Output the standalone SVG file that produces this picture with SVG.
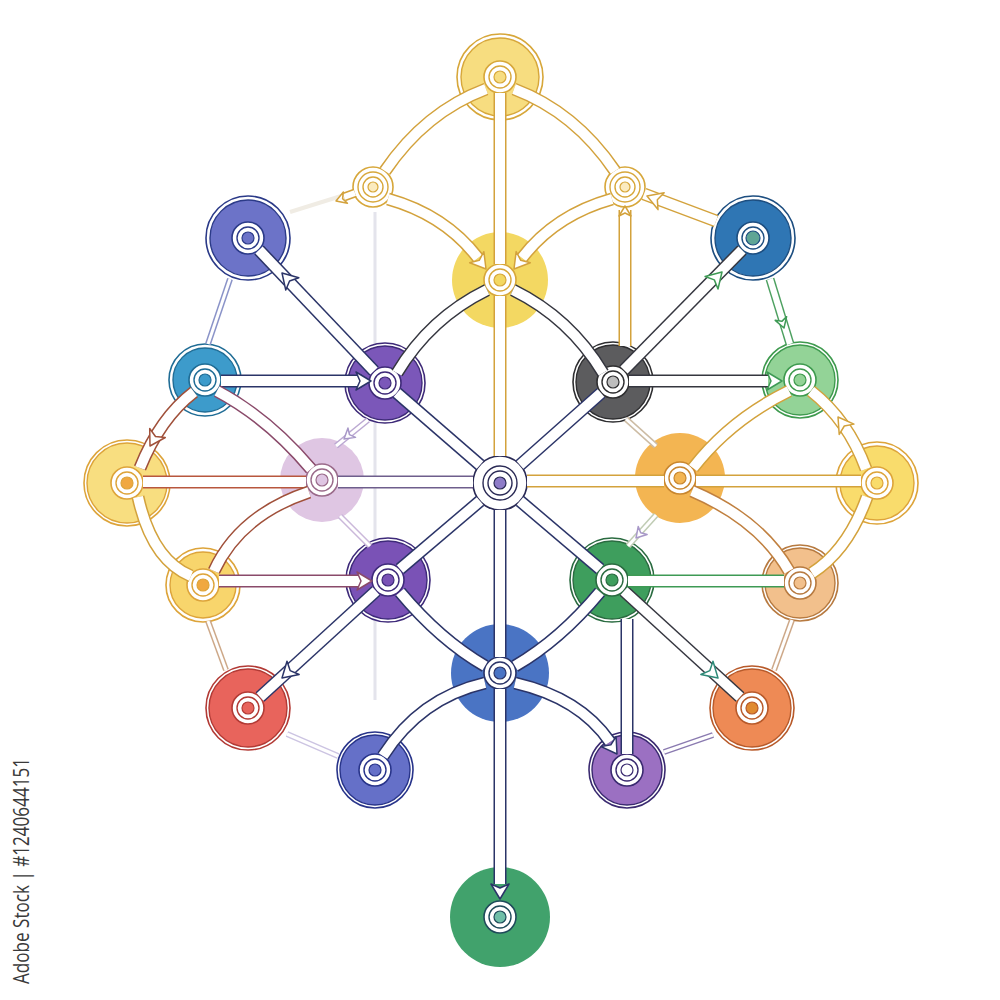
<svg xmlns="http://www.w3.org/2000/svg" xmlns:xlink="http://www.w3.org/1999/xlink" width="1000" height="1000" viewBox="0 0 1000 1000">
<style>
.node .bo{fill:#fff;stroke:var(--s);stroke-width:1.6}
.node .bi{fill:var(--f);stroke:var(--s);stroke-width:1.4}
.node .bf{fill:var(--f)}
.node .c0{fill:#fff;stroke:var(--s);stroke-width:1.6}
.node .c1{fill:none;stroke:var(--s);stroke-width:1.4}
.node .c2{fill:var(--f);stroke:var(--s);stroke-width:1.2}
.tube .o{fill:none;stroke-width:13}
.tube .i{fill:none;stroke:#fff;stroke-width:10}
.thin .o{fill:none;stroke-width:6}
.thin .i{fill:none;stroke:#fff;stroke-width:3}
.gold{stroke:#D3A23C}
.navy{stroke:#2B3468}
.dark{stroke:#35363F}
.red{stroke:#B8573E}
.plum{stroke:#6E5E8C}
.rose{stroke:#8A4A6A}
.green{stroke:#3E9A55}
.brown{stroke:#A0503A}
.amber{stroke:#C08040}
.ah{fill:#fff;stroke-width:1.5;stroke-linejoin:round}
.ah.gold{stroke:#D3A23C}
.ah.navy{stroke:#2B3468}
.ah.green{stroke:#3E9A55}
.ah.teal{stroke:#2E8A78}
.ah.brown{stroke:#A0503A}
.ah.rose{stroke:#8A4A6A}
.ah.lav{stroke:#A898C8}
.wm{font-family:"Open Sans","Liberation Sans",sans-serif;font-size:22px;fill:#3a3a3a}
</style>
<defs>
<path id="ah" d="M0,0 L-15,-9 L-11,0 L-15,9 Z"/>
<path id="ahs" d="M0,0 L-10,-6 L-7,0 L-10,6 Z"/>
</defs>
<rect width="1000" height="1000" fill="#fff"/>

<g id="faint">
<path d="M375,212 V700" stroke="#E4E4EC" stroke-width="3" fill="none"/>
<path d="M290,212 L354,192" stroke="#F0ECE4" stroke-width="4" fill="none"/>
</g>

<!-- nodes -->
<g id="n-top" class="node" style="--f:#F7DD80;--s:#D7A73A" transform="translate(500,77)"><circle class="bo" r="43"/><circle class="bi" r="39"/><circle class="c0" r="16"/><circle class="c1" r="11"/><circle class="c2" r="6"/></g>
<g id="n-tls" class="node" style="--f:#FBEBC0;--s:#D7A73A" transform="translate(373,187)"><circle class="bo" r="20"/><circle class="c1" r="15"/><circle class="c1" r="10"/><circle class="c2" r="5"/></g>
<g id="n-trs" class="node" style="--f:#FBEBC0;--s:#D7A73A" transform="translate(625,187)"><circle class="bo" r="20"/><circle class="c1" r="15"/><circle class="c1" r="10"/><circle class="c2" r="5"/></g>
<g id="n-uc" class="node" style="--f:#F3D862;--s:#D7A73A" transform="translate(500,280)"><circle class="bf" r="48"/><circle class="c0" r="16"/><circle class="c1" r="11"/><circle class="c2" r="6"/></g>
<g id="n-tl" class="node" style="--f:#6C73C8;--s:#2B3A88" transform="translate(248,238)"><circle class="bo" r="42"/><circle class="bi" r="38"/><circle class="c0" r="16"/><circle class="c1" r="11"/><circle class="c2" r="6"/></g>
<g id="n-tr" class="node" style="--f:#2F76B4;--s:#1D4E80" transform="translate(753,238)"><circle class="bo" r="42"/><circle class="bi" r="38"/><circle class="c0" r="16"/><circle class="c1" r="11"/><circle class="c2" r="7" style="fill:#5FA595"/></g>
<g id="n-lt" class="node" style="--f:#3D9BCB;--s:#1F6C95" transform="translate(205,380)"><circle class="bo" r="36"/><circle class="bi" r="32"/><circle class="c0" r="16"/><circle class="c1" r="11"/><circle class="c2" r="6"/></g>
<g id="n-p1" class="node" style="--f:#7B57B9;--s:#3E2A78" transform="translate(385,383)"><circle class="bo" r="40"/><circle class="bi" r="37"/><circle class="c0" r="16"/><circle class="c1" r="11"/><circle class="c2" r="6"/></g>
<g id="n-gray" class="node" style="--f:#5C5C5E;--s:#2E2E30" transform="translate(613,382)"><circle class="bo" r="40"/><circle class="bi" r="37"/><circle class="c0" r="16"/><circle class="c1" r="11"/><circle class="c2" r="6" style="fill:#BDBDBD"/></g>
<g id="n-lg" class="node" style="--f:#93D397;--s:#3E9A4E" transform="translate(800,380)"><circle class="bo" r="38"/><circle class="bi" r="35"/><circle class="c0" r="16"/><circle class="c1" r="11"/><circle class="c2" r="6"/></g>
<g id="n-ly" class="node" style="--f:#F8DE80;--s:#DDA43A" transform="translate(127,483)"><circle class="bo" r="43"/><circle class="bi" r="40"/><circle class="c0" r="16"/><circle class="c1" r="11"/><circle class="c2" r="6" style="fill:#F0A840"/></g>
<g id="n-pink" class="node" style="--f:#DFC6E3;--s:#9A6A8A" transform="translate(322,480)"><circle class="bf" r="42"/><circle class="c0" r="16"/><circle class="c1" r="11"/><circle class="c2" r="6"/></g>
<g id="n-c" class="node" style="--f:#8E7CC8;--s:#2A2A55" transform="translate(500,483)"><circle class="c0" r="27"/><circle class="c1" r="17"/><circle class="c1" r="12"/><circle class="c2" r="6"/></g>
<g id="n-oy" class="node" style="--f:#F3B552;--s:#C8862E" transform="translate(680,478)"><circle class="bf" r="45"/><circle class="c0" r="16"/><circle class="c1" r="11"/><circle class="c2" r="6"/></g>
<g id="n-ry" class="node" style="--f:#F9DC6C;--s:#DDA43A" transform="translate(877,483)"><circle class="bo" r="41"/><circle class="bi" r="37"/><circle class="c0" r="16"/><circle class="c1" r="11"/><circle class="c2" r="6"/></g>
<g id="n-lsy" class="node" style="--f:#F8D56C;--s:#DDA43A" transform="translate(203,585)"><circle class="bo" r="37"/><circle class="bi" r="33"/><circle class="c0" r="16"/><circle class="c1" r="11"/><circle class="c2" r="6" style="fill:#F0A840"/></g>
<g id="n-p2" class="node" style="--f:#7A52B6;--s:#3E2A7A" transform="translate(388,580)"><circle class="bo" r="42"/><circle class="bi" r="39"/><circle class="c0" r="16"/><circle class="c1" r="11"/><circle class="c2" r="6"/></g>
<g id="n-g" class="node" style="--f:#3E9E5D;--s:#2A6B40" transform="translate(612,580)"><circle class="bo" r="42"/><circle class="bi" r="39"/><circle class="c0" r="16"/><circle class="c1" r="11"/><circle class="c2" r="6"/></g>
<g id="n-peach" class="node" style="--f:#F2C08C;--s:#B77A40" transform="translate(800,583)"><circle class="bo" r="38"/><circle class="bi" r="35"/><circle class="c0" r="16"/><circle class="c1" r="11"/><circle class="c2" r="6"/></g>
<g id="n-b" class="node" style="--f:#4A74C4;--s:#2B3468" transform="translate(500,673)"><circle class="bf" r="49"/><circle class="c0" r="16"/><circle class="c1" r="11"/><circle class="c2" r="6"/></g>
<g id="n-red" class="node" style="--f:#E8645C;--s:#B23A35" transform="translate(248,708)"><circle class="bo" r="42"/><circle class="bi" r="39"/><circle class="c0" r="16"/><circle class="c1" r="11"/><circle class="c2" r="6"/></g>
<g id="n-or" class="node" style="--f:#EE8A55;--s:#B85A2A" transform="translate(752,708)"><circle class="bo" r="42"/><circle class="bi" r="39"/><circle class="c0" r="16"/><circle class="c1" r="11"/><circle class="c2" r="6" style="fill:#E08A30"/></g>
<g id="n-bv" class="node" style="--f:#6570C8;--s:#28348A" transform="translate(375,770)"><circle class="bo" r="38"/><circle class="bi" r="35"/><circle class="c0" r="16"/><circle class="c1" r="11"/><circle class="c2" r="6"/></g>
<g id="n-pb" class="node" style="--f:#9B70C2;--s:#3A2A70" transform="translate(627,770)"><circle class="bo" r="38"/><circle class="bi" r="35"/><circle class="c0" r="16"/><circle class="c1" r="11"/><circle class="c2" r="6" style="fill:#fff"/></g>
<g id="n-gb" class="node" style="--f:#41A26C;--s:#1F4A5A" transform="translate(500,917)"><circle class="bf" r="50"/><circle class="c0" r="16"/><circle class="c1" r="11"/><circle class="c2" r="6" style="fill:#6FBFA8"/></g>

<!-- connectors -->
<g id="connectors">
<g class="thin" stroke-linecap="butt">
<path class="o" style="stroke:#8A93C8" d="M230,279 L208,344"/><path class="i" d="M230,279 L208,344"/>
<path class="o" style="stroke:#4DA060;stroke-width:9" d="M770,279 L790,344"/><path class="i" style="stroke-width:6" d="M770,279 L790,344"/>
<path class="o" style="stroke:#BBA8D2" d="M368,420 L336,446"/><path class="i" d="M368,420 L336,446"/>
<path class="o" style="stroke:#CDBCA4" d="M626,419 L656,446"/><path class="i" d="M626,419 L656,446"/>
<path class="o" style="stroke:#CBB8DA" d="M340,516 L370,546"/><path class="i" d="M340,516 L370,546"/>
<path class="o" style="stroke:#C0CCB4" d="M656,515 L628,546"/><path class="i" d="M656,515 L628,546"/>
<path class="o" style="stroke:#CDA888" d="M208,621 L226,670"/><path class="i" d="M208,621 L226,670"/>
<path class="o" style="stroke:#CDA888" d="M792,620 L774,670"/><path class="i" d="M792,620 L774,670"/>
<path class="o" style="stroke:#CCC4E2" d="M287,734 L338,756"/><path class="i" d="M287,734 L338,756"/>
<path class="o" style="stroke:#8A7AB0" d="M713,735 L664,752"/><path class="i" d="M713,735 L664,752"/>
</g>
<g class="tube">
<g id="c-top-uc"><path class="o gold" d="M500,93 V264"/><path class="i" d="M500,93 V264"/></g>
<g id="c-uc-c"><path class="o gold" d="M500,296 V456"/><path class="i" d="M500,296 V456"/></g>
<g id="c-c-b"><path class="o navy" d="M500,510 V657"/><path class="i" d="M500,510 V657"/></g>
<g id="c-b-gb"><path class="o navy" d="M500,689 V884"/><path class="i" d="M500,689 V884"/></g>
<g id="c-top-tls"><path class="o gold" d="M486,89 Q425,112 385,171"/><path class="i" d="M486,89 Q425,112 385,171"/></g>
<g id="c-top-trs"><path class="o gold" d="M514,89 Q575,112 615,171"/><path class="i" d="M514,89 Q575,112 615,171"/></g>
<g id="c-tls-uc"><path class="o gold" d="M388,199 Q445,215 478,258"/><path class="i" d="M388,199 Q445,215 478,258"/></g>
<g id="c-trs-uc"><path class="o gold" d="M612,199 Q555,215 522,258"/><path class="i" d="M612,199 Q555,215 522,258"/></g>
<g id="c-tls-stub"><path class="o gold" d="M355,193 L344,197" style="stroke-width:9"/><path class="i" d="M355,193 L344,197" style="stroke-width:6"/></g>
<g id="c-trs-tr"><path class="o gold" d="M644,194 L716,221"/><path class="i" d="M644,194 L716,221"/></g>
<g id="c-trs-gray"><path class="o gold" d="M625,210 V346"/><path class="i" d="M625,210 V346"/></g>
<g id="c-uc-p1"><path class="o dark" d="M487,290 Q430,318 397,373"/><path class="i" d="M487,290 Q430,318 397,373"/></g>
<g id="c-uc-gray"><path class="o dark" d="M513,290 Q570,318 603,373"/><path class="i" d="M513,290 Q570,318 603,373"/></g>
<g id="c-p1-c"><path class="o navy" d="M397,393 L480,465"/><path class="i" d="M397,393 L480,465"/></g>
<g id="c-gray-c"><path class="o navy" d="M601,393 L520,465"/><path class="i" d="M601,393 L520,465"/></g>
<g id="c-c-p2"><path class="o navy" d="M480,501 L400,569"/><path class="i" d="M480,501 L400,569"/></g>
<g id="c-c-g"><path class="o navy" d="M520,501 L600,569"/><path class="i" d="M520,501 L600,569"/></g>
<g id="c-p1-tl"><path class="o navy" d="M374,371 L259,250"/><path class="i" d="M374,371 L259,250"/></g>
<g id="c-gray-tr"><path class="o dark" d="M624,370 L742,250"/><path class="i" d="M624,370 L742,250"/></g>
<g id="c-p2-red"><path class="o navy" d="M376,591 L260,697"/><path class="i" d="M376,591 L260,697"/></g>
<g id="c-g-or"><path class="o dark" d="M624,591 L740,697"/><path class="i" d="M624,591 L740,697"/></g>
<g id="c-lt-p1"><path class="o navy" d="M221,381 H362"/><path class="i" d="M221,381 H362"/></g>
<g id="c-gray-lg"><path class="o dark" d="M629,381 H768"/><path class="i" d="M629,381 H768"/></g>
<g id="c-ly-pink"><path class="o red" d="M143,482 H306"/><path class="i" d="M143,482 H306"/></g>
<g id="c-pink-c"><path class="o plum" d="M338,482 H473"/><path class="i" d="M338,482 H473"/></g>
<g id="c-c-oy"><path class="o gold" d="M527,481 H664"/><path class="i" d="M527,481 H664"/></g>
<g id="c-oy-ry"><path class="o gold" d="M696,481 H861"/><path class="i" d="M696,481 H861"/></g>
<g id="c-lsy-p2"><path class="o rose" d="M219,581 H362"/><path class="i" d="M219,581 H362"/></g>
<g id="c-g-peach"><path class="o green" d="M628,581 H784"/><path class="i" d="M628,581 H784"/></g>
<g id="c-lt-ly"><path class="o brown" d="M194,392 Q160,418 140,468"/><path class="i" d="M194,392 Q160,418 140,468"/></g>
<g id="c-lt-pink"><path class="o rose" d="M217,391 Q268,418 311,469"/><path class="i" d="M217,391 Q268,418 311,469"/></g>
<g id="c-lg-oy"><path class="o gold" d="M789,391 Q730,420 693,468"/><path class="i" d="M789,391 Q730,420 693,468"/></g>
<g id="c-lg-ry"><path class="o gold" d="M811,391 Q848,420 866,469"/><path class="i" d="M811,391 Q848,420 866,469"/></g>
<g id="c-ly-lsy"><path class="o gold" d="M138,497 Q152,560 191,576"/><path class="i" d="M138,497 Q152,560 191,576"/></g>
<g id="c-pink-lsy"><path class="o brown" d="M309,492 Q240,515 214,571"/><path class="i" d="M309,492 Q240,515 214,571"/></g>
<g id="c-oy-peach"><path class="o amber" d="M692,491 Q760,520 789,571"/><path class="i" d="M692,491 Q760,520 789,571"/></g>
<g id="c-ry-peach"><path class="o gold" d="M867,497 Q848,550 812,573"/><path class="i" d="M867,497 Q848,550 812,573"/></g>
<g id="c-p2-b"><path class="o navy" d="M400,592 Q440,640 485,666"/><path class="i" d="M400,592 Q440,640 485,666"/></g>
<g id="c-g-b"><path class="o navy" d="M600,592 Q560,640 515,666"/><path class="i" d="M600,592 Q560,640 515,666"/></g>
<g id="c-b-bv"><path class="o navy" d="M485,683 Q420,698 383,756"/><path class="i" d="M485,683 Q420,698 383,756"/></g>
<g id="c-b-pb"><path class="o navy" d="M515,683 Q580,698 610,742"/><path class="i" d="M515,683 Q580,698 610,742"/></g>
<g id="c-g-pb"><path class="o navy" d="M627,619 V754"/><path class="i" d="M627,619 V754"/></g>
</g>
<g id="arrowheads">
<use href="#ah" class="ah gold" transform="translate(486,269) rotate(52)"/>
<use href="#ah" class="ah gold" transform="translate(514,269) rotate(128)"/>
<use href="#ahs" class="ah gold" transform="translate(336,201) rotate(160)"/>
<use href="#ah" class="ah gold" transform="translate(647,196) rotate(200)"/>
<use href="#ahs" class="ah gold" transform="translate(625,206) rotate(-90)"/>
<use href="#ah" class="ah navy" transform="translate(282,273) rotate(226.6)"/>
<use href="#ah" class="ah green" transform="translate(722,272) rotate(-45.8)"/>
<use href="#ah" class="ah navy" transform="translate(371,381) rotate(0)"/>
<use href="#ah" class="ah green" transform="translate(782,381) rotate(0)"/>
<use href="#ah" class="ah rose" transform="translate(372,581) rotate(0)"/>
<use href="#ah" class="ah brown" transform="translate(150,446) rotate(120)"/>
<use href="#ah" class="ah gold" transform="translate(838,417) rotate(235)"/>
<use href="#ah" class="ah navy" transform="translate(282,678) rotate(137.6)"/>
<use href="#ah" class="ah teal" transform="translate(718,678) rotate(42.4)"/>
<use href="#ah" class="ah navy" transform="translate(500,899) rotate(90)"/>
<use href="#ah" class="ah navy" transform="translate(617,754) rotate(56)"/>
<use href="#ahs" class="ah green" transform="translate(784,328) rotate(72)"/>
<use href="#ahs" class="ah lav" transform="translate(344,439) rotate(141)"/>
<use href="#ahs" class="ah lav" transform="translate(636,538) rotate(132)"/>
</g>
</g>

<text class="wm" transform="translate(29,984) rotate(-90)" textLength="226" lengthAdjust="spacingAndGlyphs">Adobe Stock | #1240644151</text>
</svg>
